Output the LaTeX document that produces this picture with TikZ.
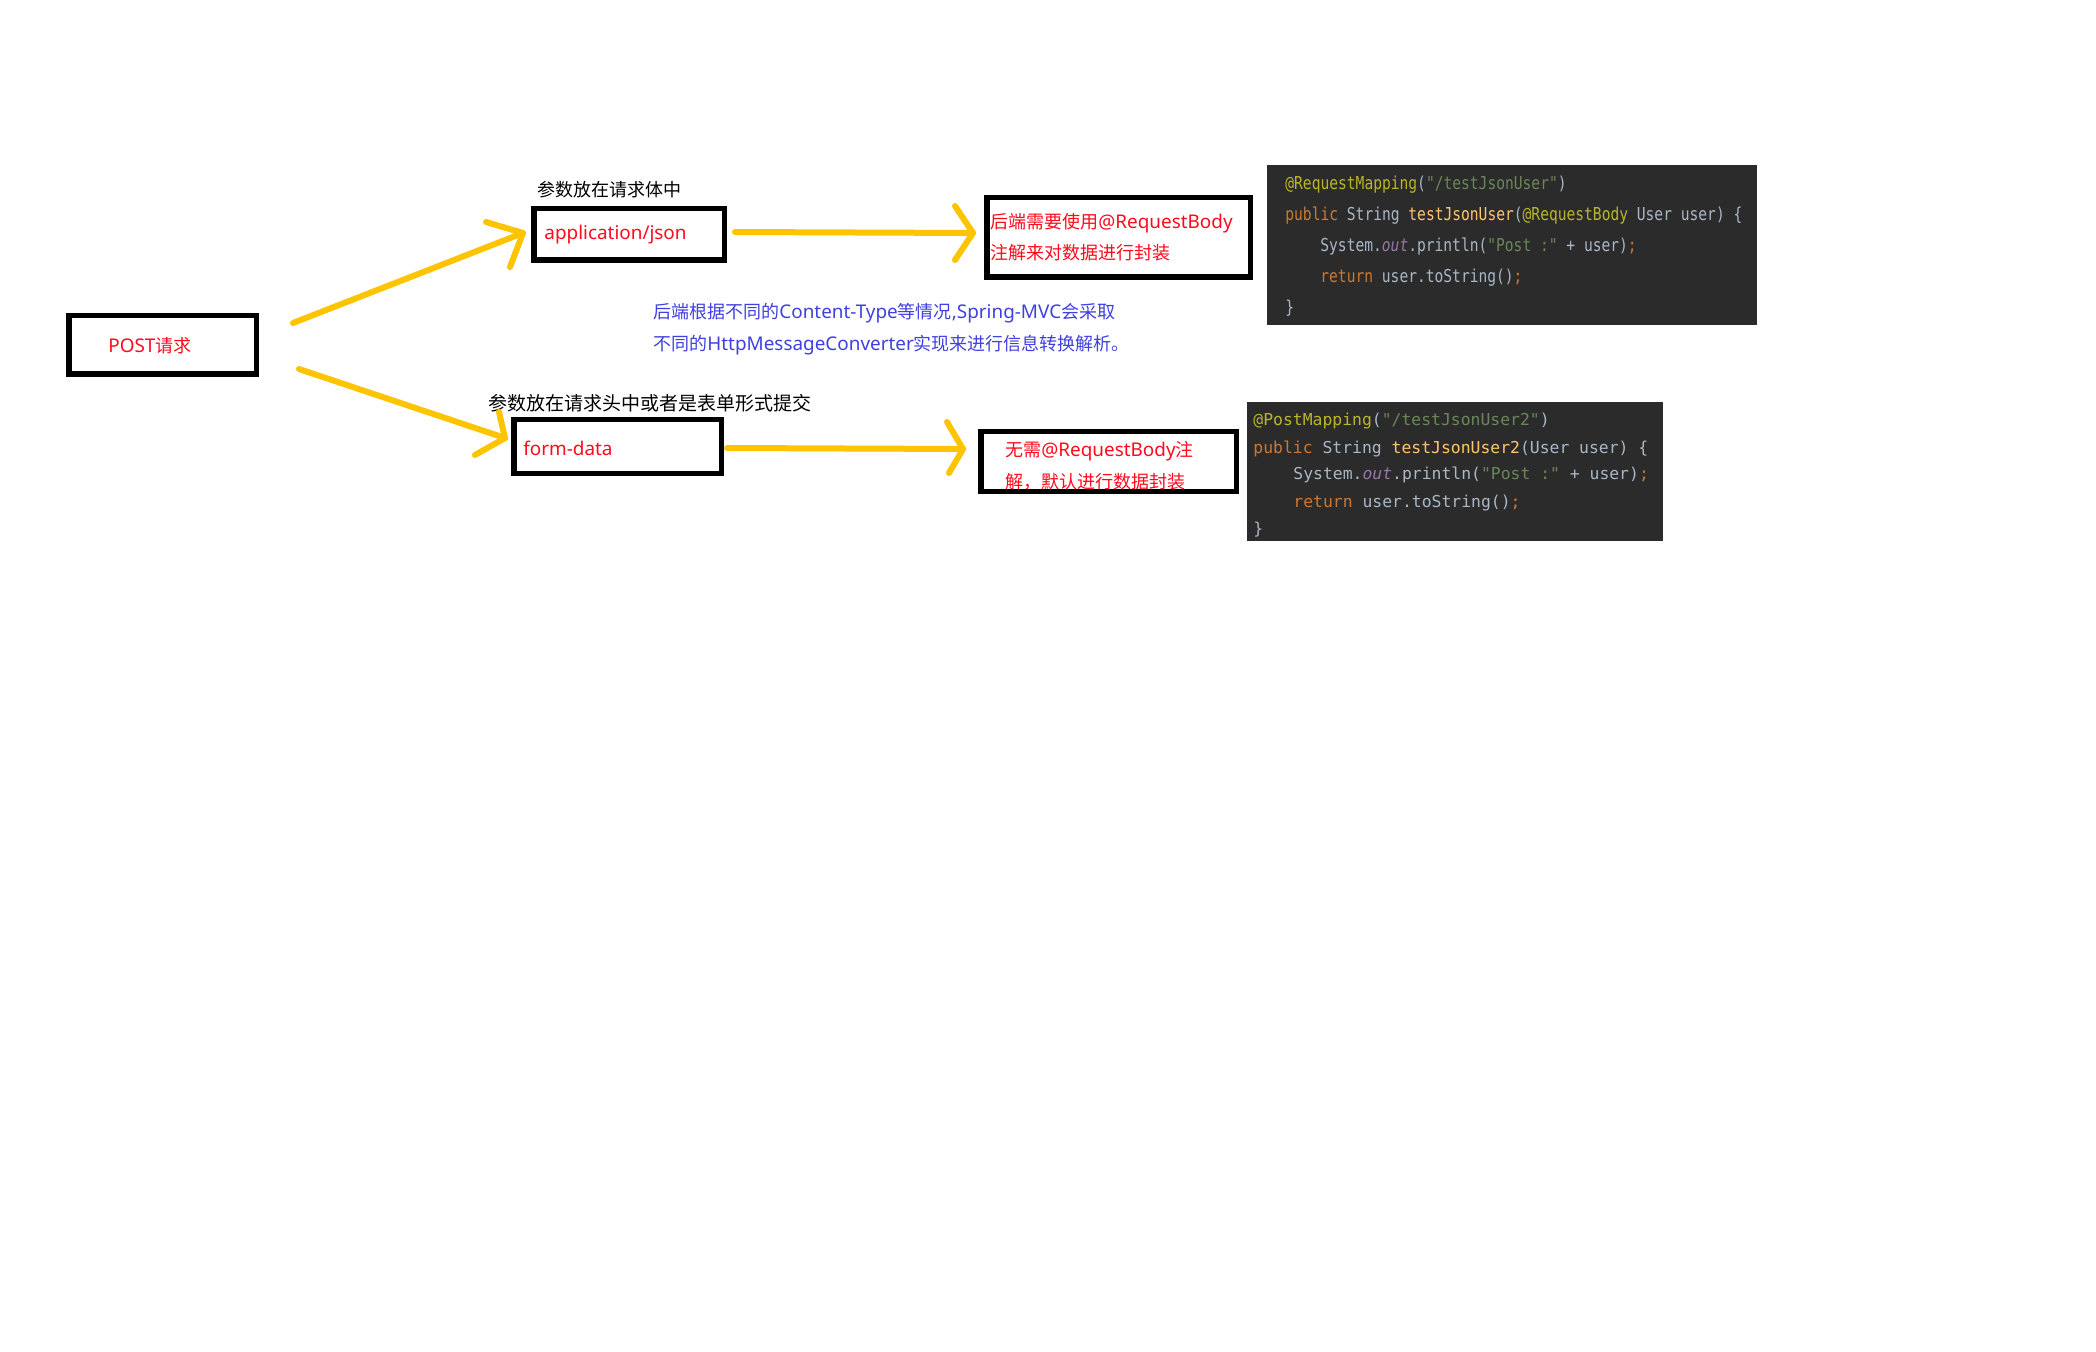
\documentclass[tikz,border=0pt]{standalone}
\usepackage{fontspec}
\setmainfont{Noto Sans}[Scale=1.05]
\newfontfamily\cjk{Noto Sans CJK SC}
\newfontfamily\codeA[FakeStretch=0.82]{DejaVu Sans Mono}
\newfontfamily\codeB{DejaVu Sans Mono}
\definecolor{ylw}{RGB}{255,196,0}
\definecolor{redtxt}{RGB}{255,10,30}
\definecolor{bluetxt}{RGB}{64,64,224}
\definecolor{codebg}{HTML}{2B2B2B}
\definecolor{cfg}{HTML}{A9B7C6}
\definecolor{ckw}{HTML}{CC7832}
\definecolor{cann}{HTML}{BBB529}
\definecolor{cstr}{HTML}{6A8759}
\definecolor{cmeth}{HTML}{FFC66D}
\definecolor{cfield}{HTML}{9876AA}
\tikzset{
  lbl/.style={anchor=base west, inner sep=0pt, font=\fontsize{9}{11}\selectfont},
  redt/.style={lbl, text=redtxt},
  bluet/.style={lbl, text=bluetxt},
  blackbox/.style={draw=black, line width=2.75pt, rectangle, inner sep=0pt},
  codebox/.style={fill=codebg, rectangle, inner sep=0pt},
  cA/.style={anchor=base west, inner sep=0pt, text=cfg, font=\codeA\fontsize{8.9}{10}\selectfont},
  cB/.style={anchor=base west, inner sep=0pt, text=cfg, font=\codeB\fontsize{8.2}{10}\selectfont},
  yarrow/.style={draw=ylw, line width=3pt, line cap=round, line join=round},
}
\begin{document}
\begin{tikzpicture}[x=0.5pt,y=-0.5pt]
\useasboundingbox (0,0) rectangle (2096,1352);
\fill[white] (0,0) rectangle (2096,1352);

% code panels
\node[codebox, minimum width=245pt, minimum height=80pt] (code1) at (1512,245) {};
\node[codebox, minimum width=208pt, minimum height=69.5pt] (code2) at (1455,471.5) {};

\node[cA] (c1l1) at (1285,190) {\textcolor{cann}{@RequestMapping}(\textcolor{cstr}{"/testJsonUser"})};
\node[cA] (c1l2) at (1285,221) {\textcolor{ckw}{public} String \textcolor{cmeth}{testJsonUser}(\textcolor{cann}{@RequestBody} User user) \{};
\node[cA] (c1l3) at (1320,252) {System.\textcolor{cfield}{\itshape out}.println(\textcolor{cstr}{"Post :"} + user)\textcolor{ckw}{;}};
\node[cA] (c1l4) at (1320,283) {\textcolor{ckw}{return} user.toString()\textcolor{ckw}{;}};
\node[cA] (c1l5) at (1285,314) {\}};

\node[cB] (c2l1) at (1253,426) {\textcolor{cann}{@PostMapping}(\textcolor{cstr}{"/testJsonUser2"})};
\node[cB] (c2l2) at (1253,453) {\textcolor{ckw}{public} String \textcolor{cmeth}{testJsonUser2}(User user) \{};
\node[cB] (c2l3) at (1293,480) {System.\textcolor{cfield}{\itshape out}.println(\textcolor{cstr}{"Post :"} + user)\textcolor{ckw}{;}};
\node[cB] (c2l4) at (1293,507) {\textcolor{ckw}{return} user.toString()\textcolor{ckw}{;}};
\node[cB] (c2l5) at (1253,534) {\}};

% texts
\node[redt] (postT) at (108,353) {POST{\cjk 请求}};
\node[redt] (appT) at (544,240) {application/json};
\node[lbl] (lbl1) at (537,197) {{\cjk 参数放在请求体中}};
\node[redt] (b2l1) at (990,229) {{\cjk 后端需要使用}@RequestBody};
\node[redt] (b2l2) at (990,260) {{\cjk 注解来对数据进行封装}};
\node[bluet] (blue1) at (653,319) {{\cjk 后端根据不同的}Content-Type{\cjk 等情况},Spring-MVC{\cjk 会采取}};
\node[bluet] (blue2) at (653,351) {{\cjk 不同的}HttpMessageConverter{\cjk 实现来进行信息转换解析。}};
\node[lbl, font=\fontsize{9.5}{11}\selectfont] (lbl2) at (488,411) {{\cjk 参数放在请求头中或者是表单形式提交}};
\node[redt] (formT) at (523,456) {form-data};
\node[redt] (b4l1) at (1005,457) {{\cjk 无需}@RequestBody{\cjk 注}};
\node[redt] (b4l2) at (1005,488) {{\cjk 解，默认进行数据封装}};

% boxes
\node[blackbox, minimum width=93.75pt, minimum height=29.25pt] (post) at (162.5,345) {};
\node[blackbox, minimum width=95.25pt, minimum height=25.75pt] (app) at (629,234.5) {};
\node[blackbox, minimum width=131.75pt, minimum height=39.75pt] (need) at (1118.5,237.5) {};
\node[blackbox, minimum width=103.75pt, minimum height=26.75pt] (form) at (617.5,446.5) {};
\node[blackbox, minimum width=127.75pt, minimum height=29.75pt] (noneed) at (1108.5,461.5) {};

% arrows
\coordinate (a1s) at (293,323); \coordinate (a1t) at (523,233);
\coordinate (a1u) at (486,222); \coordinate (a1d) at (510,267);
\coordinate (a2s) at (299,369); \coordinate (a2t) at (505,438);
\coordinate (a2u) at (499,412); \coordinate (a2d) at (475,455);
\coordinate (a3s) at (735,232); \coordinate (a3t) at (973,233);
\coordinate (a3u) at (955,206); \coordinate (a3d) at (955,260);
\coordinate (a4s) at (727,448); \coordinate (a4t) at (963,449);
\coordinate (a4u) at (947,422); \coordinate (a4d) at (949,473);
\draw[yarrow] (a1s) -- (a1t);
\draw[yarrow] (a1u) -- (a1t) -- (a1d);
\draw[yarrow] (a2s) -- (a2t);
\draw[yarrow] (a2u) -- (a2t) -- (a2d);
\draw[yarrow] (a3s) -- (a3t);
\draw[yarrow] (a3u) -- (a3t) -- (a3d);
\draw[yarrow] (a4s) -- (a4t);
\draw[yarrow] (a4u) -- (a4t) -- (a4d);
\end{tikzpicture}
\end{document}
